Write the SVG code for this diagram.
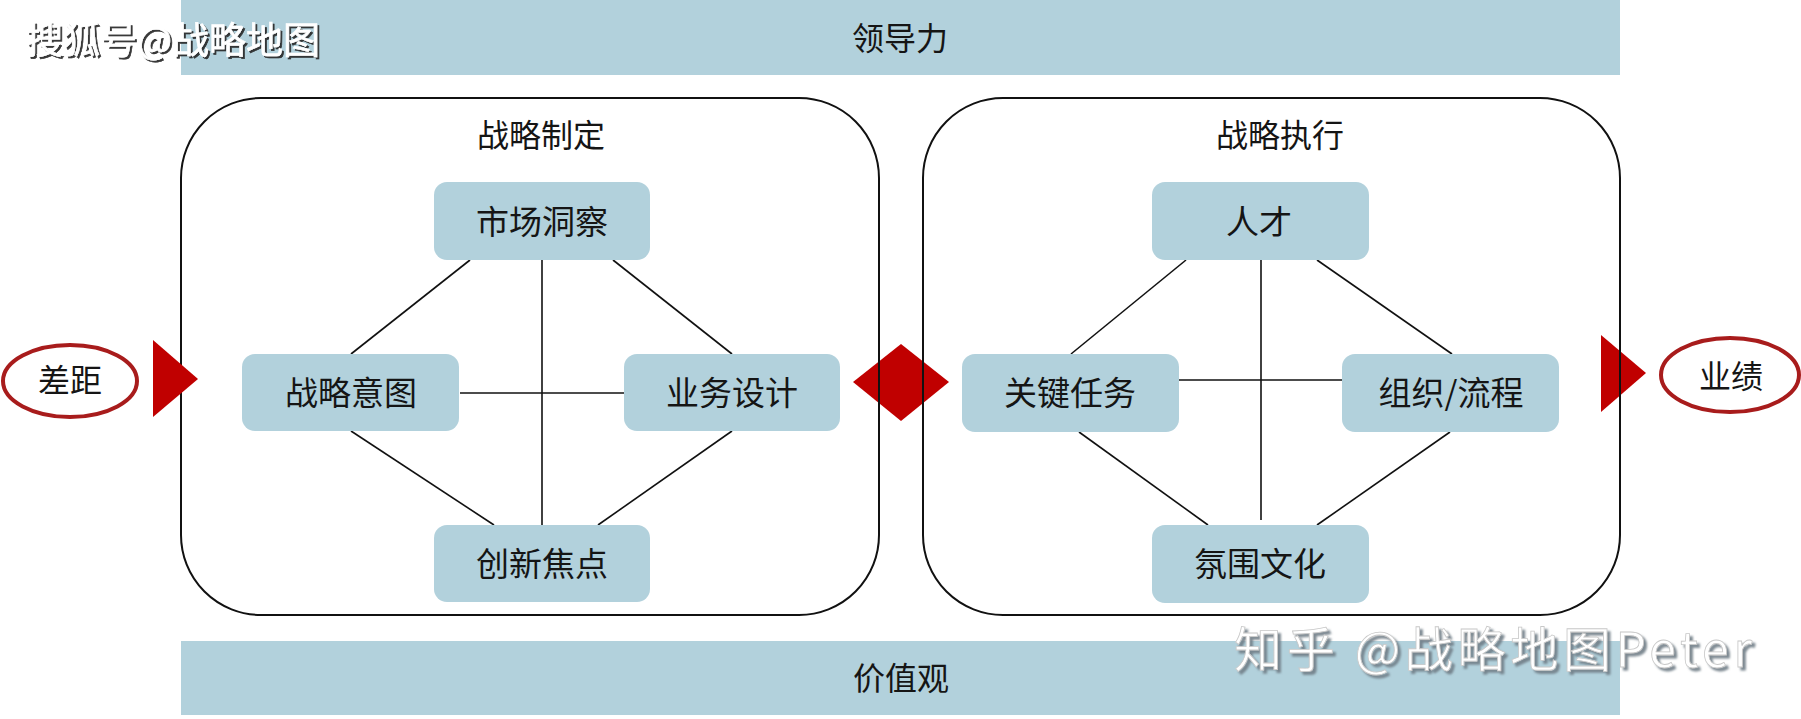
<svg xmlns="http://www.w3.org/2000/svg" width="1801" height="719" viewBox="0 0 1801 719">
<style>
.bar{fill:#b2d1dc}
.box{fill:#b2d1dc}
.panel{fill:none;stroke:#111;stroke-width:2}
.t{font-family:"Noto Sans CJK SC","Noto Sans",sans-serif;fill:#151515;text-anchor:middle}
.nt{font-size:33px}
.tt{font-size:32px}
.edge{stroke:#111;stroke-width:1.6;fill:none}
.red{fill:#c00000}
.oval{fill:#fff;stroke:#a81c1c;stroke-width:4}
.wm{font-family:"Noto Sans CJK SC","Noto Sans",sans-serif;fill:#fff}
</style>
<defs>
<filter id="sh1" x="-10%" y="-30%" width="120%" height="160%">
<feDropShadow dx="2" dy="2" stdDeviation="0.6" flood-color="#222" flood-opacity="0.9"/>
</filter>
<filter id="sh2" x="-10%" y="-30%" width="120%" height="160%">
<feDropShadow dx="3" dy="3" stdDeviation="0.8" flood-color="#6f7d86" flood-opacity="0.9"/>
</filter>
</defs>
<rect width="1801" height="719" fill="#fff"/>
<g id="leadership">
<rect class="bar" x="181" y="0" width="1439" height="75"/>
<text class="t tt" x="900" y="50">领导力</text>
</g>
<g id="values">
<rect class="bar" x="181" y="641" width="1439" height="74"/>
<text class="t tt" x="901" y="690">价值观</text>
</g>
<g id="diamond"><polygon class="red" points="853,382 901,344 949,382 901,421"/></g>
<g id="arrow-right"><polygon class="red" points="1601,335 1646,373 1601,412"/></g>
<g id="formulation">
<rect class="panel" x="181" y="98" width="698" height="517" rx="80" ry="80"/>
<text class="t tt" x="541" y="147">战略制定</text>
</g>
<g id="execution">
<rect class="panel" x="923" y="98" width="697" height="517" rx="80" ry="80"/>
<text class="t tt" x="1280" y="147">战略执行</text>
</g>
<g id="arrow-left"><polygon class="red" points="153,340 198,379 153,417"/></g>
<g id="connectors">
<line class="edge" x1="542" y1="260" x2="542" y2="525"/>
<line class="edge" x1="460" y1="393" x2="624" y2="393"/>
<line class="edge" x1="470" y1="260" x2="351" y2="354"/>
<line class="edge" x1="613" y1="260" x2="732" y2="354"/>
<line class="edge" x1="351" y1="431" x2="494" y2="525"/>
<line class="edge" x1="732" y1="431" x2="598" y2="525"/>
<line class="edge" x1="1261" y1="260" x2="1261" y2="520"/>
<line class="edge" x1="1179" y1="380" x2="1342" y2="380"/>
<line class="edge" x1="1186" y1="260" x2="1071" y2="354"/>
<line class="edge" x1="1317" y1="260" x2="1452" y2="354"/>
<line class="edge" x1="1079" y1="432" x2="1208" y2="525"/>
<line class="edge" x1="1450" y1="432" x2="1317" y2="525"/>
</g>
<g id="market">
<rect class="box" x="434" y="182" width="216" height="78" rx="13"/>
<text class="t nt" x="542" y="234">市场洞察</text>
</g>
<g id="intent">
<rect class="box" x="242" y="354" width="217" height="77" rx="13"/>
<text class="t nt" x="351" y="405">战略意图</text>
</g>
<g id="design">
<rect class="box" x="624" y="354" width="216" height="77" rx="13"/>
<text class="t nt" x="732" y="405">业务设计</text>
</g>
<g id="innovation">
<rect class="box" x="434" y="525" width="216" height="77" rx="13"/>
<text class="t nt" x="542" y="576">创新焦点</text>
</g>
<g id="talent">
<rect class="box" x="1152" y="182" width="217" height="78" rx="13"/>
<text class="t nt" x="1259" y="234">人才</text>
</g>
<g id="tasks">
<rect class="box" x="962" y="354" width="217" height="78" rx="13"/>
<text class="t nt" x="1070" y="405">关键任务</text>
</g>
<g id="org">
<rect class="box" x="1342" y="354" width="217" height="78" rx="13"/>
<text class="t nt" x="1451" y="405">组织/流程</text>
</g>
<g id="culture">
<rect class="box" x="1152" y="525" width="217" height="78" rx="13"/>
<text class="t nt" x="1260" y="576">氛围文化</text>
</g>
<g id="gap">
<ellipse class="oval" cx="70" cy="381" rx="67" ry="36"/>
<text class="t tt" x="70" y="392">差距</text>
</g>
<g id="performance">
<ellipse class="oval" cx="1730" cy="375" rx="69" ry="37"/>
<text class="t tt" x="1731" y="388">业绩</text>
</g>
<g id="watermarks">
<text class="wm" x="26" y="54" font-size="37" stroke="#fff" stroke-width="0.6" filter="url(#sh1)">搜狐号@战略地图</text>
<text class="wm" x="1234" y="667" font-size="48" textLength="518" lengthAdjust="spacing" stroke="#c8c8c8" stroke-width="0.8" filter="url(#sh2)">知乎 @战略地图Peter</text>
</g>
</svg>
